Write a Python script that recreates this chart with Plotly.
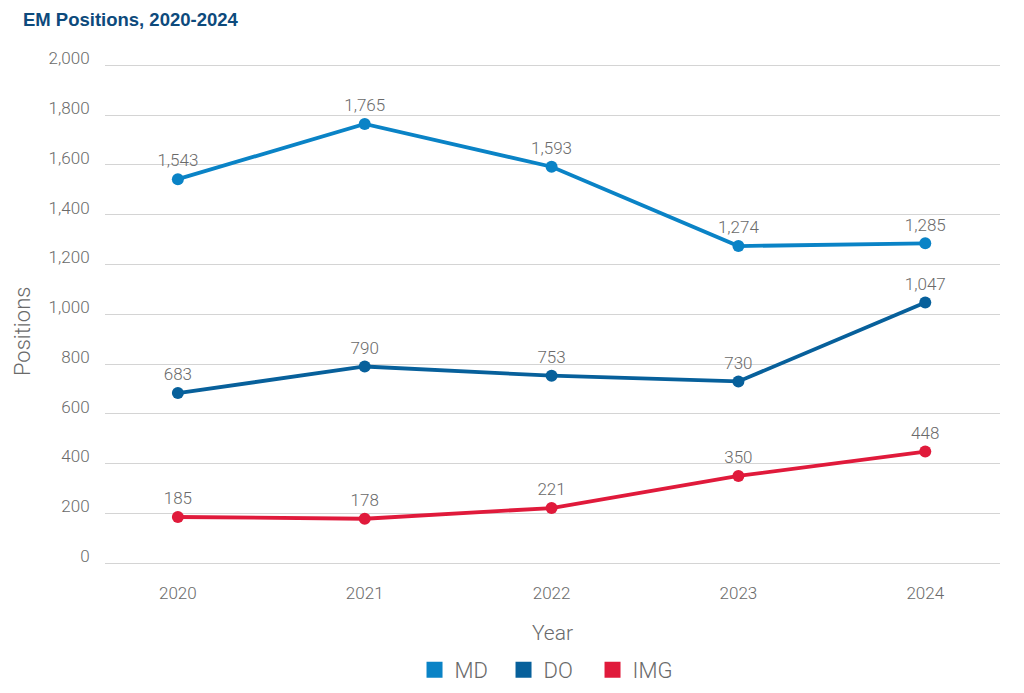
import plotly.graph_objects as go

# chart data
years = [2020, 2021, 2022, 2023, 2024]
md_positions = [1543, 1765, 1593, 1274, 1285]
do_positions = [683, 790, 753, 730, 1047]
img_positions = [185, 178, 221, 350, 448]

series_names = ["MD", "DO", "IMG"]
series_colors = ["#0A83C6", "#07609B", "#E01A3B"]

GRAY = "#6a6a6a"
FONT = "Roboto"

fig = go.Figure()

for name, vals, col in zip(series_names, [md_positions, do_positions, img_positions], series_colors):
    fig.add_trace(go.Scatter(
        x=years, y=vals, name=name,
        mode="lines+markers+text",
        line=dict(color=col, width=3.8),
        marker=dict(color=col, size=12),
        text=[f"{v:,}" for v in vals],
        textposition="top center",
        textfont=dict(family=FONT, size=17, color=GRAY, weight=300),
        cliponaxis=False,
        showlegend=False,
    ))

# square legend keys
for name, col in zip(series_names, series_colors):
    fig.add_trace(go.Scatter(
        x=[None], y=[None], name=name, mode="markers",
        marker=dict(color=col, size=18, symbol="square"),
    ))

# the page adds an 8px body margin, so the figure is a bit smaller than the window
fig.update_layout(
    width=1016, height=685,
    margin=dict(l=97, r=24, t=55, b=128, autoexpand=False),
    paper_bgcolor="white", plot_bgcolor="white",
    font=dict(family=FONT, color=GRAY),
    title=dict(
        text="<b>EM Positions, 2020-2024</b>",
        x=0.0147, xanchor="left", y=0.9927, yanchor="top",
        font=dict(family="Liberation Sans", size=18.5, color="#0D4A7C"),
    ),
    xaxis=dict(
        range=[2019.61, 2024.4], automargin=False,
        tickvals=years, ticktext=[str(y) for y in years],
        showgrid=False, zeroline=False, showline=False,
        ticks="outside", ticklen=13, tickcolor="rgba(0,0,0,0)",
        tickfont=dict(family=FONT, size=17, color=GRAY, weight=300),
        title=dict(text="Year", standoff=22,
                   font=dict(family=FONT, size=21, color=GRAY, weight=300)),
    ),
    yaxis=dict(
        range=[-8, 2010], tickvals=list(range(0, 2001, 200)),
        tickformat=",", automargin=False,
        showgrid=True, gridcolor="#d4d4d4", gridwidth=1,
        zeroline=False, showline=False,
        ticks="outside", ticklen=11, tickcolor="rgba(0,0,0,0)",
        ticklabelshift=-7,
        tickfont=dict(family=FONT, size=17, color=GRAY, weight=300),
    ),
    annotations=[dict(
        text="Positions", textangle=-90, showarrow=False,
        xref="paper", yref="paper", x=-0.1084, y=0.465,
        xanchor="left", yanchor="middle",
        font=dict(family=FONT, size=22, color=GRAY, weight=300),
    )],
    legend=dict(
        orientation="h", x=0.495, xanchor="center", y=-0.209, yanchor="middle",
        font=dict(family=FONT, size=22, color=GRAY, weight=300),
        itemwidth=30, entrywidth=44,
    ),
)

fig.write_html("out.html")
